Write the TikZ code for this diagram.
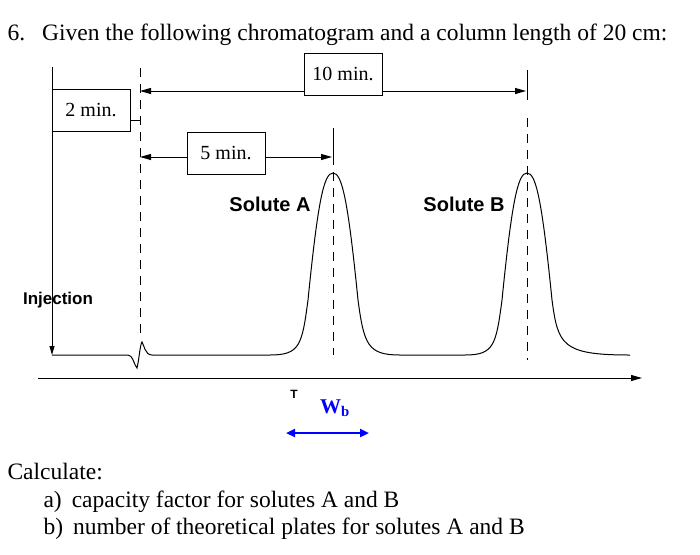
\documentclass[tikz,border=0pt]{standalone}
\usepackage{fontspec}
\setmainfont{Liberation Serif}
\newfontfamily\hsans{Liberation Sans}
\usetikzlibrary{arrows.meta}
\begin{document}
\begin{tikzpicture}[x=1pt,y=-1pt,
  box/.style={draw,line width=0.8pt,minimum width=78pt,minimum height=42pt,font=\fontsize{20}{23}\selectfont},
  dim/.style={line width=1pt,-{Triangle[length=11pt,width=6pt]}},
  dsh/.style={line width=0.9pt,dash pattern=on 9pt off 7pt},
  lab/.style={font=\hsans\bfseries\fontsize{20}{23}\selectfont},
  txt/.style={anchor=base west,font=\fontsize{23.5}{26}\selectfont}]
\useasboundingbox (0,0) rectangle (700,554);
\node[txt] (title) at (4,40) {6.\hspace{17pt}Given the following chromatogram and a column length of 20 cm:};
% boxes
\node[box] (ten) at (343,74) {10 min.};
\node[box] (two) at (91,110) {2 min.};
\node[box] (five) at (226,153) {5 min.};
\coordinate (t0) at (140,91);
\coordinate (tB) at (526,91);
\coordinate (f0) at (140,157);
\coordinate (fA) at (332,157);
\draw[dim] (ten.west|-t0) -- (t0);
\draw[dim] (ten.east|-tB) -- (tB);
\draw[dim] (five.west|-f0) -- (f0);
\draw[dim] (five.east|-fA) -- (fA);
\draw[line width=0.8pt] (two.east|-120,120) -- (140,120);
% vertical lines
\draw[dsh] (140,68) -- (140,340);
\draw[line width=0.9pt] (333,128) -- (333,165);
\draw[dsh] (333,172) -- (333,355);
\draw[line width=0.9pt] (527,70) -- (527,100);
\draw[dsh] (527,118) -- (527,360);
\coordinate (injtop) at (52,67);
\coordinate (injbot) at (52,355);
\draw[line width=0.9pt,-{Triangle[length=9pt,width=5pt]}] (injtop) -- (injbot);
% chromatogram
\draw[line width=1pt] (52,355) -- (128,355)
  .. controls (133,355) and (134,365) .. (137,368)
  .. controls (139,360) and (140,345) .. (142,342)
  .. controls (144,345) and (145,355) .. (152,355)
  -- (270,355)
  .. controls (300,355) and (302,345) .. (308,300)
  .. controls (318,200) and (324,173) .. (333,173)
  .. controls (342,173) and (348,200) .. (358,300)
  .. controls (364,345) and (368,355) .. (400,355)
  -- (465,355)
  .. controls (494,355) and (496,345) .. (502,300)
  .. controls (512,200) and (518,173) .. (527,173)
  .. controls (536,173) and (542,200) .. (552,300)
  .. controls (558,345) and (562,355) .. (630,355);
% axis
\coordinate (ax0) at (38,378);
\coordinate (ax1) at (642,378);
\draw[line width=1pt,-{Triangle[length=11pt,width=6pt]}] (ax0) -- (ax1);
% labels
\node[lab] (sa) at (270,204) {Solute A};
\node[lab] (sb) at (464,204) {Solute B};
\node[lab,font=\hsans\bfseries\fontsize{17}{19}\selectfont] (inj) at (58,300) {Injection};
\node[lab,font=\hsans\bfseries\fontsize{12}{14}\selectfont] (T) at (294,394) {T};
\node[font=\bfseries\fontsize{21}{24}\selectfont,text=blue] (wb) at (335,408) {W\textsubscript{b}};
\coordinate (w0) at (286,433);
\coordinate (w1) at (369,433);
\draw[blue,line width=2.2pt,{Triangle[length=9pt,width=8pt]}-{Triangle[length=9pt,width=8pt]}] (w0) -- (w1);
% question
\node[txt] (calc) at (4,479) {Calculate:};
\node[txt] (qa) at (40,507) {a)\hspace{10pt}capacity factor for solutes A and B};
\node[txt] (qb) at (40,534) {b)\hspace{10pt}number of theoretical plates for solutes A and B};
\end{tikzpicture}
\end{document}
